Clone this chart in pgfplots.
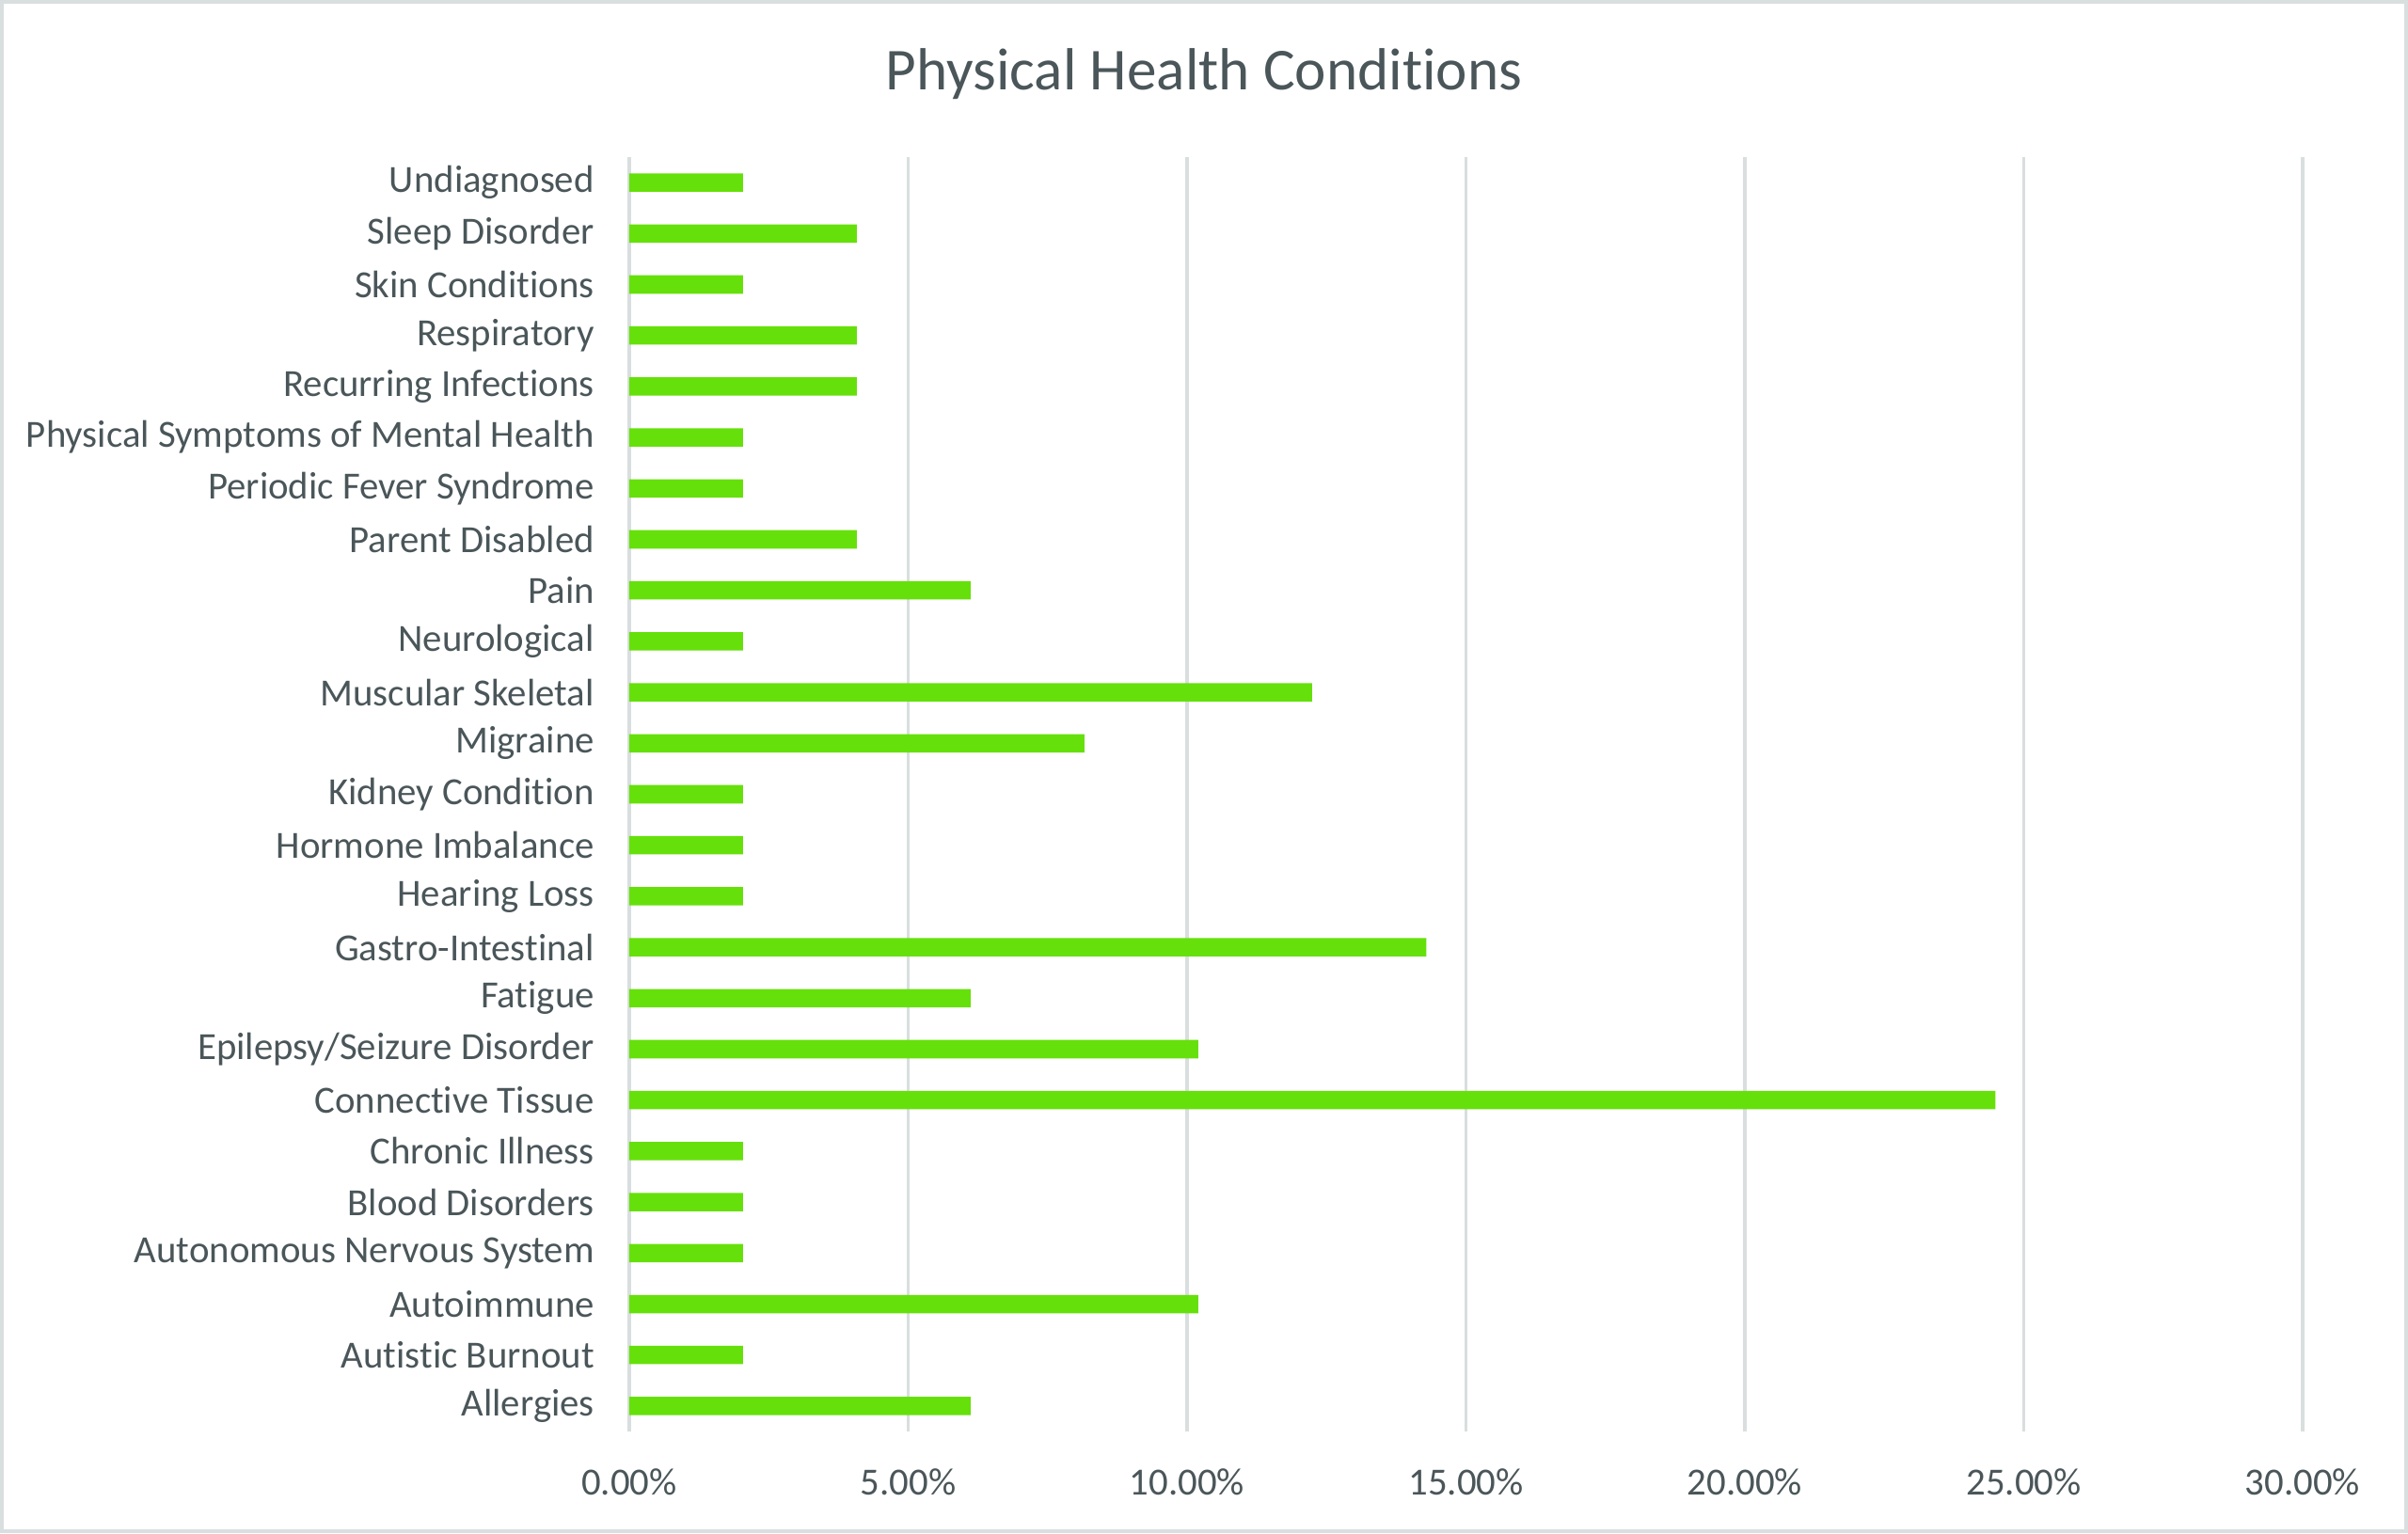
\documentclass[border=0pt]{standalone}
\usepackage{pgfplots}
\pgfplotsset{compat=1.18}
\usepackage{fontspec}
\setmainfont[Ligatures=NoCommon]{Carlito}

\definecolor{bargreen}{HTML}{66E00A}
\definecolor{textgray}{HTML}{4A5659}
\definecolor{gridgray}{HTML}{D9DEDE}
\definecolor{framegray}{HTML}{D9DEDE}

\begin{document}
\begin{tikzpicture}[x=1pt,y=1pt]
  \path[use as bounding box] (0,0) rectangle (640,407.5);
  \draw[framegray, line width=1pt] (0.5,0.5) rectangle (639.5,407);
  \node[text=textgray, font=\fontsize{15.8}{18}\selectfont] at (320,387.9) {Physical Health Conditions};
  \begin{axis}[
    at={(167.25pt,27pt)}, anchor=south west,
    width=444.75pt, height=338.75pt, scale only axis,
    xbar, bar width=0.36,
    xmin=0, xmax=30, ymin=-0.5, ymax=24.5,
    axis line style={draw=none},
    tick style={draw=none},
    xmajorgrids, grid style={gridgray, line width=0.8pt},
    xtick={0,5,10,15,20,25,30},
    xticklabels={0.00\%,5.00\%,10.00\%,15.00\%,20.00\%,25.00\%,30.00\%},
    ytick={0,...,24},
    yticklabels={Allergies,Autistic Burnout,Autoimmune,Autonomous Nervous System,Blood Disorders,Chronic Illness,Connective Tissue,Epilepsy/Seizure Disorder,Fatigue,Gastro-Intestinal,Hearing Loss,Hormone Imbalance,Kidney Condition,Migraine,Muscular Skeletal,Neurological,Pain,Parent Disabled,Periodic Fever Syndrome,Physical Symptoms of Mental Health,Recurring Infections,Respiratory,Skin Conditions,Sleep Disorder,Undiagnosed},
    ticklabel style={text=textgray, font=\fontsize{10.2}{12}\selectfont},
    yticklabel style={xshift=-1.5pt},
    xticklabel style={yshift=-6.5pt},
  ]
    \addplot[fill=bargreen, draw=none] coordinates {
      (6.12,0) (2.04,1) (10.20,2) (2.04,3) (2.04,4) (2.04,5)
      (24.49,6) (10.20,7) (6.12,8) (14.29,9) (2.04,10) (2.04,11)
      (2.04,12) (8.16,13) (12.24,14) (2.04,15) (6.12,16) (4.08,17)
      (2.04,18) (2.04,19) (4.08,20) (4.08,21) (2.04,22) (4.08,23)
      (2.04,24)
    };
  \end{axis}
\end{tikzpicture}
\end{document}
